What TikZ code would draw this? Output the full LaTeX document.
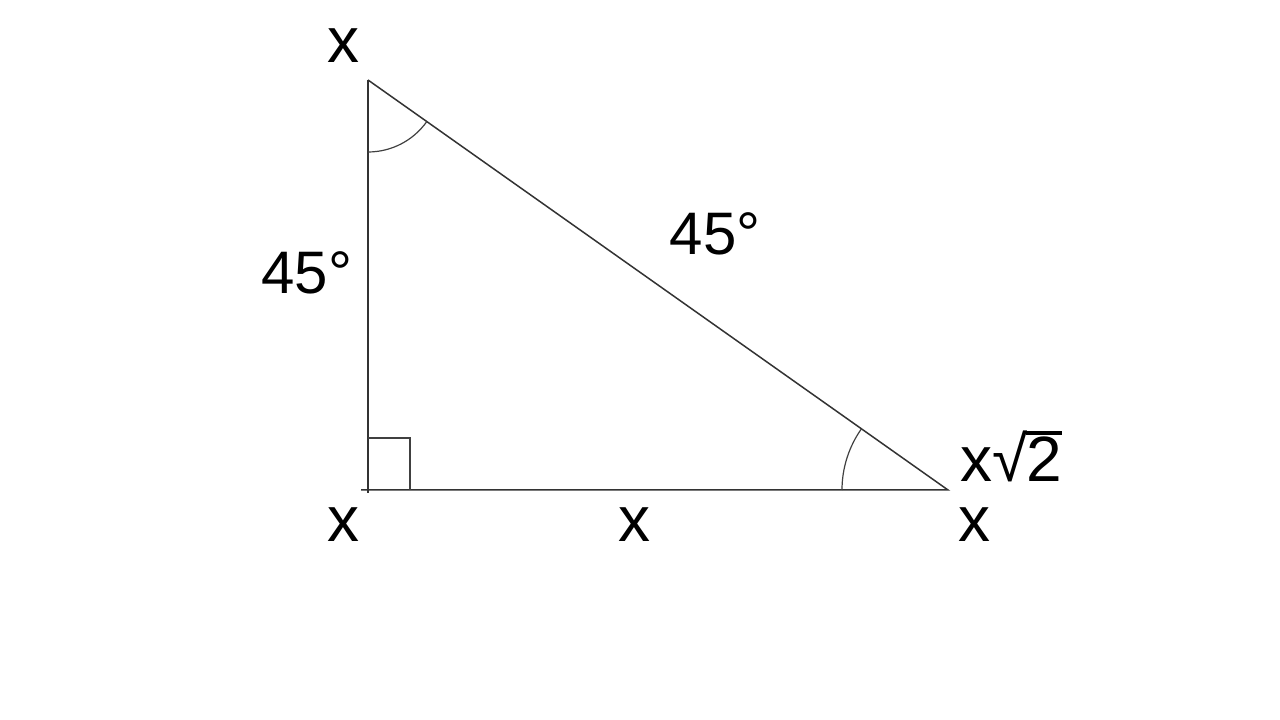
\documentclass[tikz,border=0pt]{standalone}
\usepackage{fontspec}
\setmainfont{Liberation Sans}
\usepackage{tikz}

\tikzset{
  side/.style={line width=1.5pt, draw=black!80},
  anglemark/.style={line width=1.2pt, draw=black!75},
  vlabel/.style={inner sep=0pt, font=\fontsize{64}{72}\selectfont},
  alabel/.style={inner sep=0pt, font=\fontsize{60}{70}\selectfont},
}

\begin{document}
\begin{tikzpicture}[x=1pt,y=1pt]
    \useasboundingbox (0,0) rectangle (1280,720);
    \coordinate (A) at (368,640);
    \coordinate (B) at (368,230);
    \coordinate (C) at (948,230);

    \draw[side] (A) -- ([yshift=-3]B);
    \draw[side] ([xshift=-7]B) -- (C) -- (A);

    % right angle and the two arcs
    \draw[anglemark] ([yshift=52]B) -| ([xshift=42]B);
    \draw[anglemark] ([yshift=-72]A) arc[start angle=-90, end angle=-35.26, radius=72];
    \draw[anglemark] ([xshift=-106]C) arc[start angle=180, end angle=144.74, radius=106];

    \node[vlabel] (tA) at (343,674) {x};
    \node[vlabel] (tB) at (343,195) {x};
    \node[vlabel] (tBC) at (634,195) {x};
    \node[vlabel] (tC) at (974,195) {x};
    \node[vlabel, anchor=base west] (tCA) at (960,238)
        {x√\kern-0.02em\rlap{\rule[0.74em]{0.56em}{0.05em}}2};

    \node[alabel] (aL) at (307,447) {45°};
    \node[alabel] (aR) at (715,486) {45°};
\end{tikzpicture}
\end{document}
